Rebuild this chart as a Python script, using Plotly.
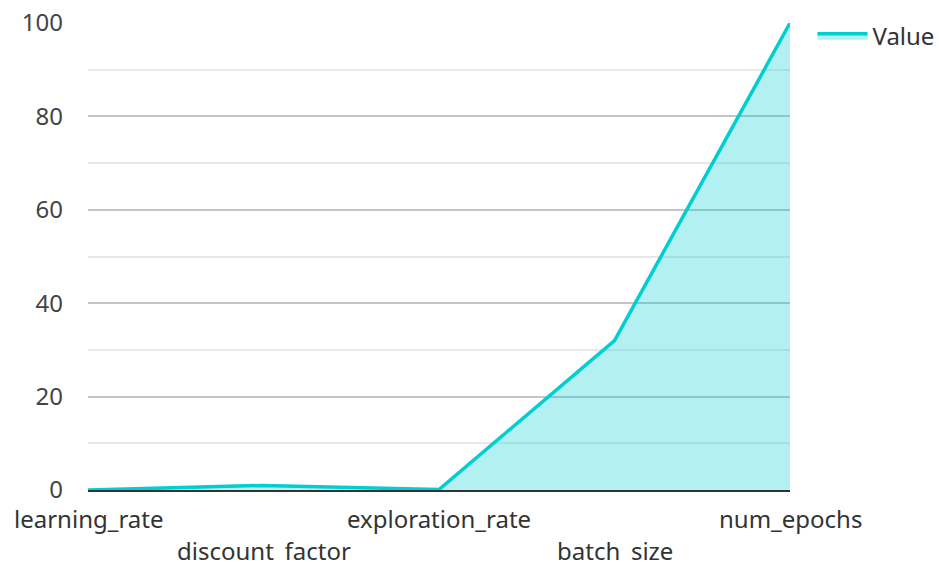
import plotly.graph_objects as go

# Hyperparameter values
params = ["learning_rate", "discount_factor", "exploration_rate", "batch_size", "num_epochs"]
values = [0.001, 0.99, 0.1, 32, 100]
y_ticks = [0, 20, 40, 60, 80, 100]

LINE = "rgb(0,206,209)"
FILL = "rgba(0,206,209,0.3)"
FONT = "Noto Sans, Open Sans, sans-serif"

fig = go.Figure()
fig.add_trace(go.Scatter(
    x=params, y=values, name="Value", mode="lines",
    line=dict(color=LINE, width=3.5),
    fill="tozeroy", fillcolor=FILL,
))

# Staggered category labels: even ones on the first row, odd ones below
for i, p in enumerate(params):
    fig.add_annotation(
        x=p, xref="x", y=0, yref="paper", yanchor="top",
        text=p, showarrow=False,
        yshift=-10 if i % 2 == 0 else -42,
        font=dict(family=FONT, size=24, color="#333"),
    )

fig.update_layout(
    width=939, height=562,
    margin=dict(l=88, r=149, t=23, b=72, autoexpand=False),
    paper_bgcolor="white", plot_bgcolor="white",
    font=dict(family=FONT, size=24, color="#444"),
    showlegend=True,
    legend=dict(x=1.032, y=1.02, xanchor="left", yanchor="top",
                itemwidth=50,
                font=dict(family=FONT, size=24, color="#333"),
                bgcolor="rgba(0,0,0,0)"),
    xaxis=dict(type="category", range=[0, len(params) - 1],
               showticklabels=False, showgrid=False, zeroline=False,
               showline=True, linecolor="#333", linewidth=2),
    yaxis=dict(range=[0, 100], tickvals=y_ticks, showline=False,
               gridcolor="#c4c4c4", gridwidth=1.5, zeroline=False,
               ticklabelstandoff=24, automargin=False,
               tickfont=dict(family=FONT, size=24, color="#444"),
               minor=dict(dtick=10, showgrid=True, gridcolor="#e8e8e8", gridwidth=1.5)),
)

fig.write_html("out.html")
